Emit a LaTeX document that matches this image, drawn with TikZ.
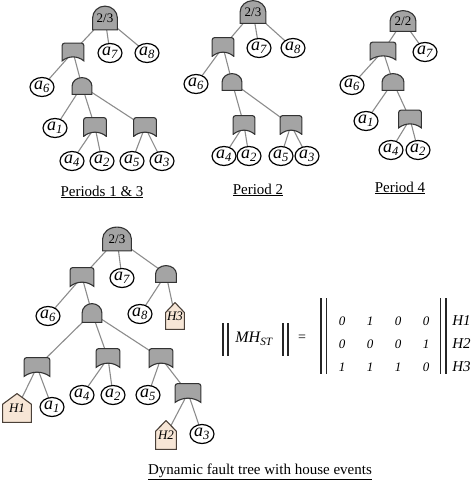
\documentclass[tikz,border=0pt]{standalone}
\usepackage{fontspec}
\setmainfont{Liberation Serif}
\usetikzlibrary{shapes.geometric,calc,backgrounds,positioning,matrix}

\definecolor{gatefill}{HTML}{A4A4A4}
\definecolor{gateline}{HTML}{333333}
\definecolor{wireline}{HTML}{8C8C8C}
\definecolor{housefill}{HTML}{F7E6D6}
\definecolor{houseline}{HTML}{4A4038}

\begin{document}
\begin{tikzpicture}[x=1pt, y=-1pt,
        basicevent/.style={ellipse, draw=black, fill=white, line width=1.2pt, minimum width=24pt, minimum height=19pt, inner sep=-1pt, font=\fontsize{18}{18}\selectfont\itshape},
        andgate/.style 2 args={rectangle, inner sep=0pt, minimum width=#1, minimum height=#2, font=\fontsize{13}{13}\selectfont,
            path picture={\path[fill=gatefill, draw=gateline, line width=1.1pt]
                let \p1=([shift={(-.6pt,-.6pt)}]path picture bounding box.north east),
                    \p2=([shift={(.6pt,.6pt)}]path picture bounding box.south west)
                in (\x2,\y2) -- (\x2,{(\y1+\y2)/2})
                   arc[start angle=180, end angle=0, x radius={(\x1-\x2)/2}, y radius={(\y1-\y2)/2}]
                   -- (\x1,\y2) -- cycle;}},
        orgate/.style 2 args={rectangle, inner sep=0pt, minimum width=#1, minimum height=#2,
            path picture={\path[fill=gatefill, draw=gateline, line width=1.1pt]
                let \p1=([shift={(-.6pt,-.6pt)}]path picture bounding box.north east),
                    \p2=([shift={(.6pt,.6pt)}]path picture bounding box.south west)
                in (\x2,\y2) [rounded corners=2.5pt] -- (\x2,\y1) -- (\x1,\y1) [sharp corners] -- (\x1,\y2)
                   .. controls ({\x1-0.3*(\x1-\x2)},{\y2+0.3*(\y1-\y2)}) and ({\x2+0.3*(\x1-\x2)},{\y2+0.3*(\y1-\y2)}) .. (\x2,\y2) -- cycle;}},
        houseevent/.style 2 args={rectangle, inner sep=0pt, minimum width=#1, minimum height=#2, font=\fontsize{13}{13}\selectfont\itshape,
            path picture={\path[fill=housefill, draw=houseline, line width=1.1pt]
                let \p1=([shift={(-.6pt,-.6pt)}]path picture bounding box.north east),
                    \p2=([shift={(.6pt,.6pt)}]path picture bounding box.south west)
                in (\x2,\y2) -- (\x2,{\y2+0.63*(\y1-\y2)}) -- ({(\x1+\x2)/2},\y1)
                   -- (\x1,{\y2+0.63*(\y1-\y2)}) -- (\x1,\y2) -- cycle;}},
        wire/.style={color=wireline, line width=1.1pt},
        caption/.style={font=\fontsize{15}{15}\selectfont},
        normbar/.style={color=black!85, line width=1.6pt},
        rowlabel/.style={anchor=west, inner sep=0pt, font=\fontsize{15}{15}\selectfont\itshape},
    ]
    \useasboundingbox (0,0) rectangle (474,481);

    %Nodes: Periods 1 & 3
    \node[andgate={26pt}{25pt}] (p13_top)  at (105,18)  {2/3};
    \node[orgate={23pt}{19pt}]  (p13_or1)  at (73,52)   {};
    \node[basicevent]           (p13_a7)   at (110,53)  {a\textsubscript{7}};
    \node[basicevent]           (p13_a8)   at (147,53)  {a\textsubscript{8}};
    \node[basicevent]           (p13_a6)   at (42,87)   {a\textsubscript{6}};
    \node[andgate={21pt}{18pt}] (p13_and1) at (82,86)   {};
    \node[basicevent]           (p13_a1)   at (55,128)  {a\textsubscript{1}};
    \node[orgate={24pt}{20pt}]  (p13_or2)  at (95,127)  {};
    \node[orgate={24pt}{20pt}]  (p13_or3)  at (145,127) {};
    \node[basicevent]           (p13_a4)   at (72,161)  {a\textsubscript{4}};
    \node[basicevent]           (p13_a2)   at (102,161) {a\textsubscript{2}};
    \node[basicevent]           (p13_a5)   at (132,161) {a\textsubscript{5}};
    \node[basicevent]           (p13_a3)   at (162,161) {a\textsubscript{3}};

    \node[caption] (p13_cap) at (102,192) {\underline{Periods 1 \& 3}};

    %Nodes: Period 2
    \node[andgate={27pt}{24pt}] (p2_top)  at (253,12)  {2/3};
    \node[orgate={23pt}{20pt}]  (p2_or1)  at (223,47)  {};
    \node[basicevent]           (p2_a7)   at (259,48)  {a\textsubscript{7}};
    \node[basicevent]           (p2_a8)   at (293,48)  {a\textsubscript{8}};
    \node[basicevent]           (p2_a6)   at (196,84)  {a\textsubscript{6}};
    \node[andgate={21pt}{18pt}] (p2_and1) at (232,82)  {};
    \node[orgate={23pt}{20pt}]  (p2_or2)  at (244,125) {};
    \node[orgate={23pt}{20pt}]  (p2_or3)  at (291,125) {};
    \node[basicevent]           (p2_a4)   at (224,156) {a\textsubscript{4}};
    \node[basicevent]           (p2_a2)   at (249,156) {a\textsubscript{2}};
    \node[basicevent]           (p2_a5)   at (281,156) {a\textsubscript{5}};
    \node[basicevent]           (p2_a3)   at (307,156) {a\textsubscript{3}};

    \node[caption] (p2_cap) at (258,190) {\underline{Period 2}};

    %Nodes: Period 4
    \node[andgate={27pt}{22pt}] (p4_top)  at (403,21)  {2/2};
    \node[orgate={27pt}{19pt}]  (p4_or1)  at (383,51)  {};
    \node[basicevent]           (p4_a7)   at (425,52)  {a\textsubscript{7}};
    \node[basicevent]           (p4_a6)   at (352,85)  {a\textsubscript{6}};
    \node[andgate={23pt}{18pt}] (p4_and1) at (393,82)  {};
    \node[basicevent]           (p4_a1)   at (366,121) {a\textsubscript{1}};
    \node[orgate={24pt}{19pt}]  (p4_or2)  at (410,119) {};
    \node[basicevent]           (p4_a4)   at (391,150) {a\textsubscript{4}};
    \node[basicevent]           (p4_a2)   at (418,150) {a\textsubscript{2}};

    \node[caption] (p4_cap) at (400,188) {\underline{Period 4}};

    %Nodes: dynamic tree with house events
    \node[andgate={30pt}{25pt}]    (dyn_top)  at (117,239) {2/3};
    \node[orgate={25pt}{20pt}]     (dyn_or1)  at (82,277)  {};
    \node[basicevent]              (dyn_a7)   at (122,278) {a\textsubscript{7}};
    \node[andgate={22pt}{18pt}]    (dyn_and2) at (166,274) {};
    \node[basicevent]              (dyn_a6)   at (48,316)  {a\textsubscript{6}};
    \node[andgate={21pt}{20pt}]    (dyn_and1) at (92,313)  {};
    \node[basicevent]              (dyn_a8)   at (140,314) {a\textsubscript{8}};
    \node[houseevent={20pt}{28pt}] (dyn_h3)   at (175,316) {\raisebox{-3pt}{H3}};
    \node[orgate={27pt}{20pt}]     (dyn_or2)  at (37,367)  {};
    \node[orgate={25pt}{20pt}]     (dyn_or3)  at (108,358) {};
    \node[orgate={25pt}{20pt}]     (dyn_or4)  at (161,358) {};
    \node[houseevent={30pt}{30pt}] (dyn_h1)   at (17,408)  {\raisebox{-3pt}{H1}};
    \node[basicevent]              (dyn_a1)   at (52,407)  {a\textsubscript{1}};
    \node[basicevent]              (dyn_a4)   at (82,395)  {a\textsubscript{4}};
    \node[basicevent]              (dyn_a2)   at (113,395) {a\textsubscript{2}};
    \node[basicevent]              (dyn_a5)   at (148,395) {a\textsubscript{5}};
    \node[orgate={27pt}{20pt}]     (dyn_or5)  at (188,393) {};
    \node[houseevent={22pt}{30pt}] (dyn_h2)   at (166,435) {\raisebox{-3pt}{H2}};
    \node[basicevent]              (dyn_a3)   at (202,434) {a\textsubscript{3}};

    \node[caption] (dyn_cap) at (260,472) {\underline{Dynamic fault tree with house events}};

    %Lines: connections between nodes
    \begin{scope}[on background layer]
        \path[wire] (p13_top.center)  edge (p13_or1.center) edge (p13_a7.center) edge (p13_a8.center);
        \path[wire] (p13_or1.center)  edge (p13_a6.center)  edge (p13_and1.center);
        \path[wire] (p13_and1.center) edge (p13_a1.center)  edge (p13_or2.center) edge (p13_or3.center);
        \path[wire] (p13_or2.center)  edge (p13_a4.center)  edge (p13_a2.center);
        \path[wire] (p13_or3.center)  edge (p13_a5.center)  edge (p13_a3.center);

        \path[wire] (p2_top.center)  edge (p2_or1.center) edge (p2_a7.center) edge (p2_a8.center);
        \path[wire] (p2_or1.center)  edge (p2_a6.center)  edge (p2_and1.center);
        \path[wire] (p2_and1.center) edge (p2_or2.center) edge (p2_or3.center);
        \path[wire] (p2_or2.center)  edge (p2_a4.center)  edge (p2_a2.center);
        \path[wire] (p2_or3.center)  edge (p2_a5.center)  edge (p2_a3.center);

        \path[wire] (p4_top.center)  edge (p4_or1.center) edge (p4_a7.center);
        \path[wire] (p4_or1.center)  edge (p4_a6.center)  edge (p4_and1.center);
        \path[wire] (p4_and1.center) edge (p4_a1.center)  edge (p4_or2.center);
        \path[wire] (p4_or2.center)  edge (p4_a4.center)  edge (p4_a2.center);

        \path[wire] (dyn_top.center)  edge (dyn_or1.center) edge (dyn_a7.center) edge (dyn_and2.center);
        \path[wire] (dyn_or1.center)  edge (dyn_a6.center)  edge (dyn_and1.center);
        \path[wire] (dyn_and2.center) edge (dyn_a8.center)  edge (dyn_h3.center);
        \path[wire] (dyn_and1.center) edge (dyn_or2.center) edge (dyn_or3.center) edge (dyn_or4.center);
        \path[wire] (dyn_or2.center)  edge (dyn_h1.center)  edge (dyn_a1.center);
        \path[wire] (dyn_or3.center)  edge (dyn_a4.center)  edge (dyn_a2.center);
        \path[wire] (dyn_or4.center)  edge (dyn_a5.center)  edge (dyn_or5.center);
        \path[wire] (dyn_or5.center)  edge (dyn_h2.center)  edge (dyn_a3.center);
    \end{scope}

    %Matrix of house events
    \node[font=\fontsize{16}{16}\selectfont\itshape] (mh) at (254,339) {MH\textsubscript{ST}};
    \node[font=\fontsize{14}{14}\selectfont] (mh_eq) at (302,338) {=};
    \matrix (mhst) [matrix of nodes, nodes={minimum width=28pt, minimum height=23pt, inner sep=0pt, font=\fontsize{13}{13}\selectfont\itshape}] at (384,344) {
        0 & 1 & 0 & 0 \\
        0 & 0 & 0 & 1 \\
        1 & 1 & 1 & 0 \\
    };
    \node[rowlabel, right=12pt of mhst-1-4] (mhst_h1) {H1};
    \node[rowlabel, right=12pt of mhst-2-4] (mhst_h2) {H2};
    \node[rowlabel, right=12pt of mhst-3-4] (mhst_h3) {H3};

    %Double bars
    \foreach \bx in {223,228,283,288}
        \draw[normbar] (\bx,323) -- (\bx,356);
    \foreach \bx in {321,326.5,440.5,446}
        \draw[normbar] (\bx,298) -- (\bx,374);
\end{tikzpicture}
\end{document}
